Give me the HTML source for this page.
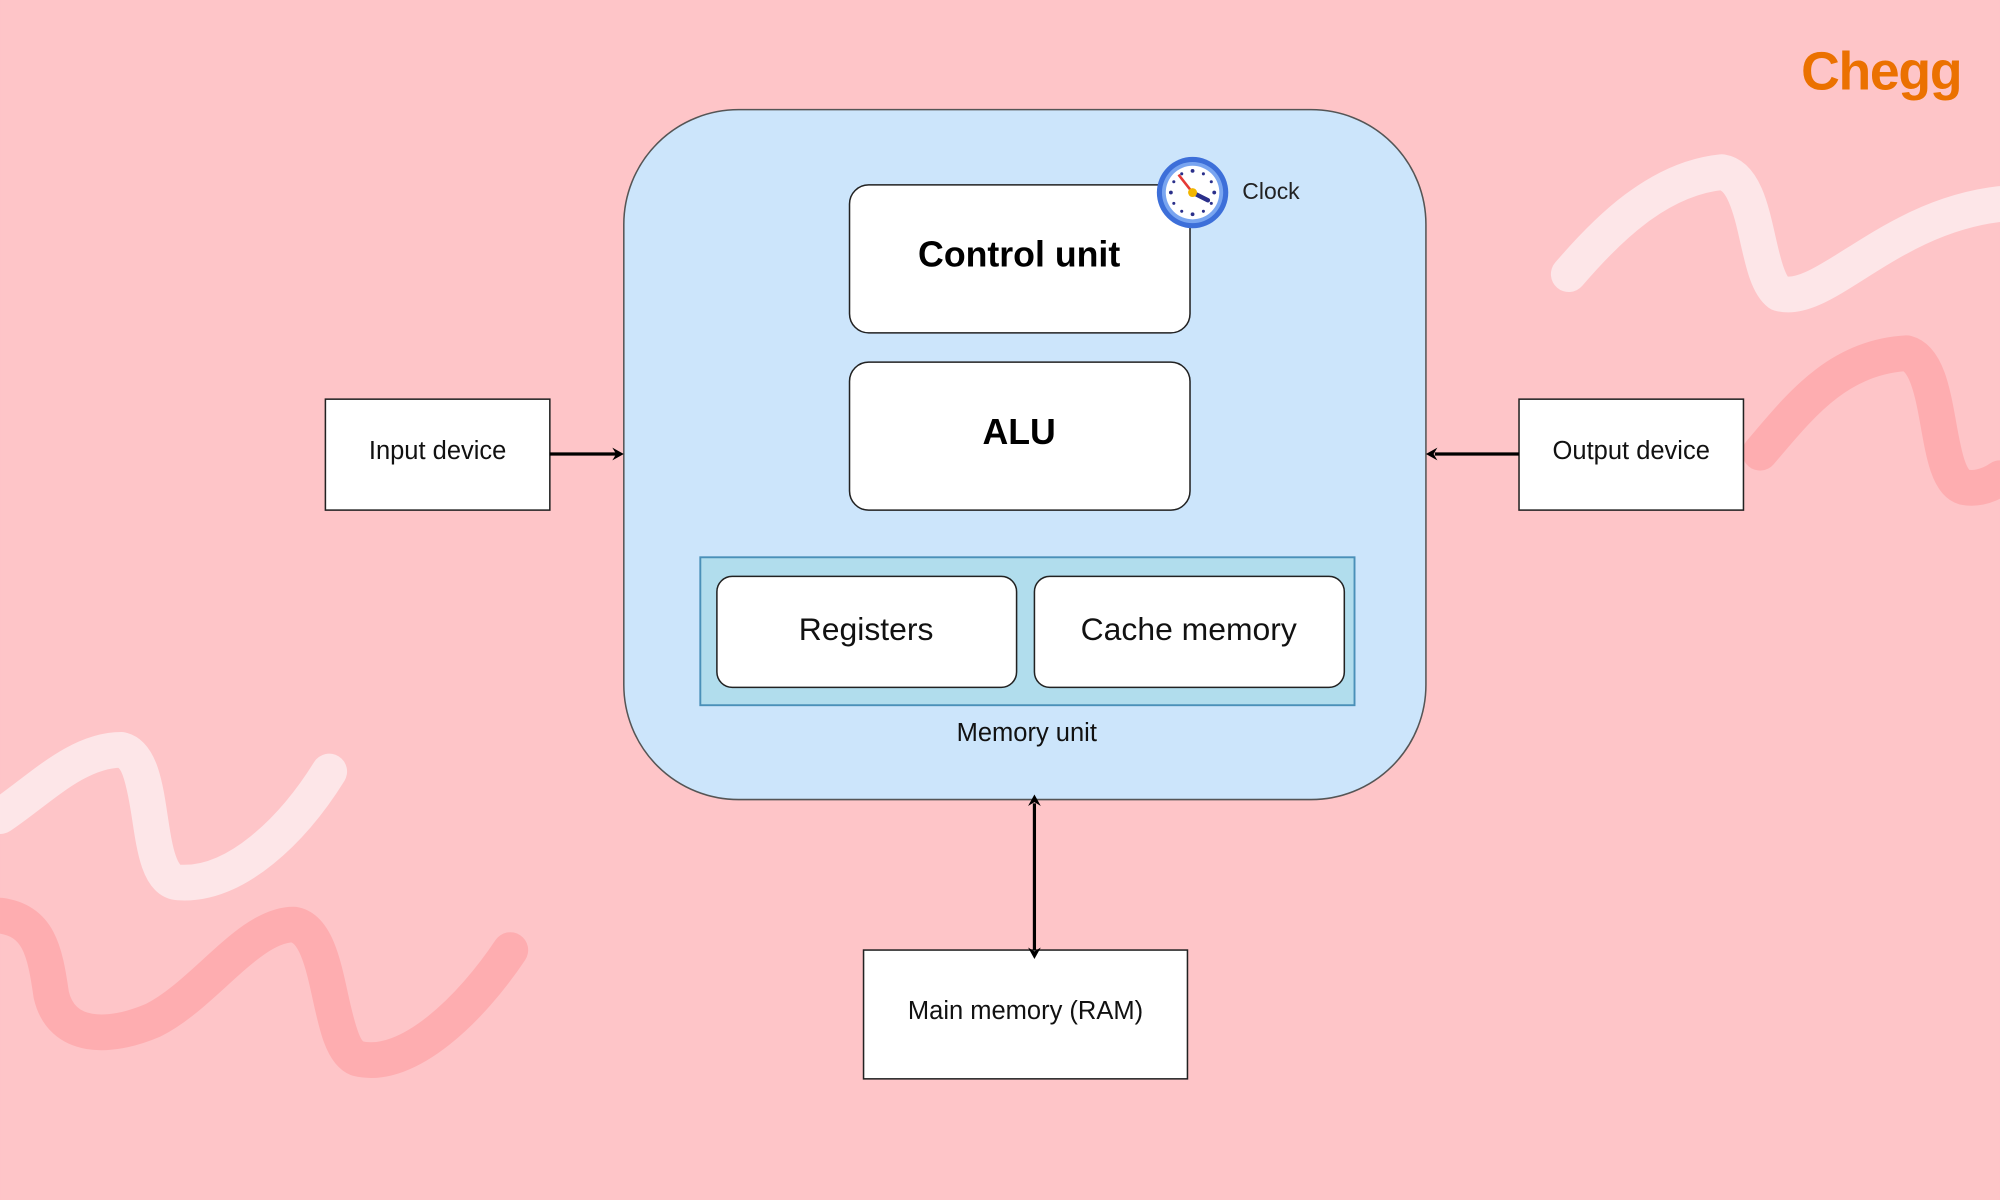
<!DOCTYPE html>
<html><head><meta charset="utf-8"><style>html,body{margin:0;padding:0;background:#fec5c8}svg{display:block}</style></head>
<body>
<svg width="2000" height="1200" viewBox="0 0 1568 941" xmlns="http://www.w3.org/2000/svg" font-family="Liberation Sans, Arial, sans-serif">
<rect width="1568" height="941" fill="#fec5c8"/>
<g fill="none" stroke-linecap="round" stroke-linejoin="round">
<path d="M1230,215 C1260,180 1300,140 1350,135 C1380,140 1375,215 1395,230 C1430,240 1480,170 1568,160" stroke="#fde6e8" stroke-width="28"/>
<path d="M1380,355 C1410,320 1440,280 1495,277 C1525,285 1515,375 1540,382 C1555,385 1568,375 1568,375" stroke="#feadb0" stroke-width="28"/>
<path d="M0,640 C30,620 60,588 95,588 C125,595 110,690 140,692 C185,695 230,650 258,605" stroke="#fde6e8" stroke-width="28"/>
<path d="M0,718 C30,722 35,745 40,780 C48,815 85,815 120,800 C160,780 195,725 230,725 C262,730 255,820 280,830 C320,840 370,790 400,745" stroke="#feadb0" stroke-width="28"/>
</g>
<text x="1475" y="70" text-anchor="middle" font-size="42" font-weight="bold" fill="#eb7100" letter-spacing="-1">Chegg</text>
<rect x="489" y="86" width="629" height="541" rx="90" fill="#cce5fb" stroke="#555" stroke-width="1.2"/>
<rect x="666" y="145" width="267" height="116" rx="15" fill="#fff" stroke="#222" stroke-width="1.2"/>
<text x="799" y="209" text-anchor="middle" font-size="28" font-weight="bold" fill="#000">Control unit</text>
<rect x="666" y="284" width="267" height="116" rx="15" fill="#fff" stroke="#222" stroke-width="1.2"/>
<text x="799" y="348" text-anchor="middle" font-size="28" font-weight="bold" fill="#000">ALU</text>
<rect x="549" y="437" width="513" height="116" fill="#b1dded" stroke="#4a90b8" stroke-width="1.5"/>
<rect x="562" y="452" width="235" height="87" rx="12" fill="#fff" stroke="#222" stroke-width="1.2"/>
<text x="679" y="502" text-anchor="middle" font-size="25" fill="#111">Registers</text>
<rect x="811" y="452" width="243" height="87" rx="12" fill="#fff" stroke="#222" stroke-width="1.2"/>
<text x="932" y="502" text-anchor="middle" font-size="25" fill="#111">Cache memory</text>
<text x="805" y="581" text-anchor="middle" font-size="20" fill="#111">Memory unit</text>
<g transform="translate(935,151)">
<circle r="28" fill="#3d6fd9"/><circle r="24" fill="#79a5f0"/><circle r="21" fill="#fff"/>
<g fill="#2a2f8a">
<circle cx="0" cy="-17" r="1.5"/><circle cx="0" cy="17" r="1.5"/><circle cx="17" cy="0" r="1.5"/><circle cx="-17" cy="0" r="1.5"/>
<circle cx="8.5" cy="-14.7" r="1.2"/><circle cx="14.7" cy="-8.5" r="1.2"/><circle cx="14.7" cy="8.5" r="1.2"/><circle cx="8.5" cy="14.7" r="1.2"/>
<circle cx="-8.5" cy="14.7" r="1.2"/><circle cx="-14.7" cy="8.5" r="1.2"/><circle cx="-14.7" cy="-8.5" r="1.2"/><circle cx="-8.5" cy="-14.7" r="1.2"/>
</g>
<line x1="0" y1="0" x2="-11" y2="-14" stroke="#e53935" stroke-width="2"/>
<line x1="0" y1="0" x2="12" y2="6" stroke="#2a2f8a" stroke-width="3.5" stroke-linecap="round"/>
<circle r="3.5" fill="#f2b600"/>
</g>
<text x="974" y="156" font-size="18" fill="#222">Clock</text>
<rect x="255" y="313" width="176" height="87" fill="#fff" stroke="#222" stroke-width="1.2"/>
<text x="343" y="360" text-anchor="middle" font-size="20" fill="#111">Input device</text>
<rect x="1191" y="313" width="176" height="87" fill="#fff" stroke="#222" stroke-width="1.2"/>
<text x="1279" y="360" text-anchor="middle" font-size="20" fill="#111">Output device</text>
<rect x="677" y="745" width="254" height="101" fill="#fff" stroke="#222" stroke-width="1.2"/>
<text x="804" y="799" text-anchor="middle" font-size="20" fill="#111">Main memory (RAM)</text>
<g stroke="#000" stroke-width="2.5" fill="none">
<line x1="431" y1="356" x2="483" y2="356"/>
<line x1="1191" y1="356" x2="1125" y2="356"/>
<line x1="811" y1="630" x2="811" y2="745"/>
</g>
<g fill="#000">
<path d="M489,356 L480,351 L483,356 L480,361 Z"/>
<path d="M1118,356 L1127,351 L1124,356 L1127,361 Z"/>
<path d="M811,623 L806,632 L811,629 L816,632 Z"/>
<path d="M811,752 L806,743 L811,746 L816,743 Z"/>
</g>
</svg>
</body></html>
